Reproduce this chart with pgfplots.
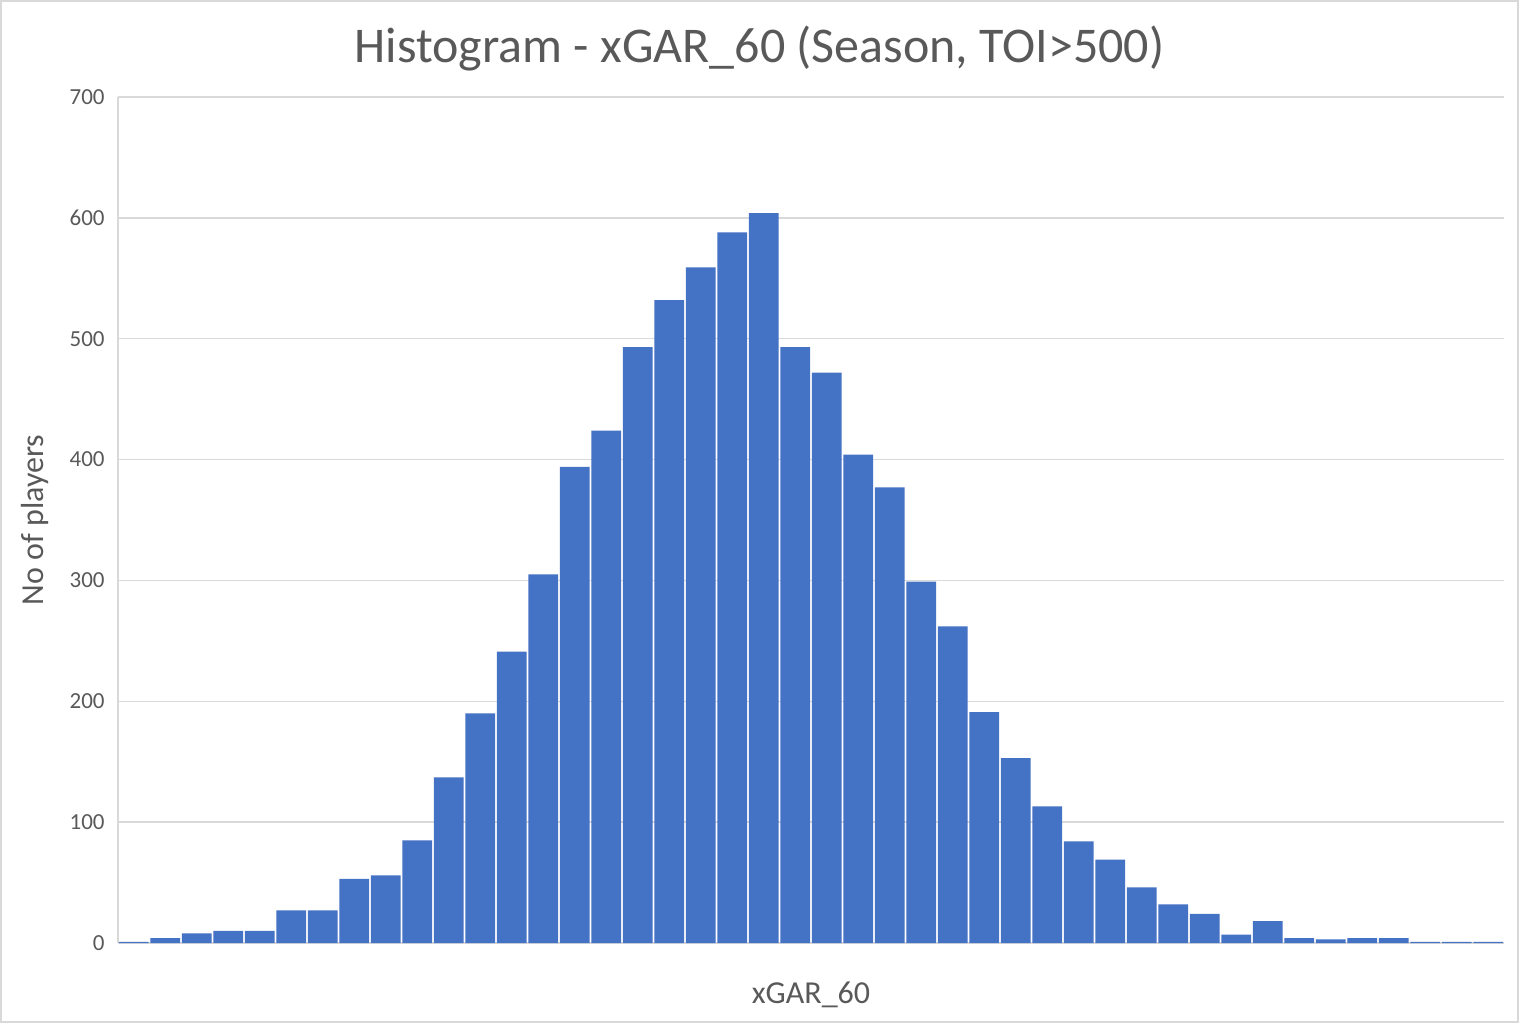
\documentclass[border=0pt]{standalone}
\usepackage{fontspec}
\setmainfont{Carlito}
\usepackage{pgfplots}
\pgfplotsset{compat=1.18}
\definecolor{txt}{HTML}{595959}
\definecolor{gridc}{HTML}{D9D9D9}
\definecolor{barc}{HTML}{4472C4}
\begin{document}
\begin{tikzpicture}
\useasboundingbox (0,0) rectangle (759.5pt,511.5pt);
\draw[gridc, line width=0.9pt] (0.45pt,0.45pt) rectangle (759.05pt,511.05pt);
\begin{axis}[
  at={(59pt,40pt)}, anchor=south west,
  scale only axis, width=693pt, height=423pt,
  xmin=0, xmax=44, ymin=0, ymax=700,
  axis x line=bottom, axis y line=left,
  axis line style={-, draw=gridc, line width=0.75pt},
  xtick=\empty,
  ytick={0,100,...,700},
  major tick length=0pt,
  ymajorgrids, grid style={draw=gridc, line width=0.75pt},
  /pgf/number format/assume math mode=true,
  yticklabel style={font=\fontsize{11.5}{13}\selectfont, text=txt, inner sep=0pt, xshift=-6.5pt},
  title={Histogram - xGAR\_60 (Season, TOI>500)},
  title style={at={(axis description cs:0.4628,1.0437)}, anchor=center, font=\fontsize{25}{30}\selectfont, text=txt},
  xlabel={xGAR\_60},
  xlabel style={at={(axis description cs:0.5,-0.0615)}, anchor=center, font=\fontsize{16}{19}\selectfont, text=txt},
  ylabel={No of players},
  ylabel style={at={(axis description cs:-0.0599,0.5)}, anchor=center, rotate=0, font=\fontsize{16}{19}\selectfont, text=txt},
  ybar, bar width=0.94, bar shift=0pt,
  clip=false,
]
\addplot[fill=barc, draw=none] coordinates {
(0.5,1) (1.5,4) (2.5,8) (3.5,10) (4.5,10) (5.5,27) (6.5,27) (7.5,53) (8.5,56) (9.5,85)
(10.5,137) (11.5,190) (12.5,241) (13.5,305) (14.5,394) (15.5,424) (16.5,493) (17.5,532) (18.5,559) (19.5,588)
(20.5,604) (21.5,493) (22.5,472) (23.5,404) (24.5,377) (25.5,299) (26.5,262) (27.5,191) (28.5,153) (29.5,113)
(30.5,84) (31.5,69) (32.5,46) (33.5,32) (34.5,24) (35.5,7) (36.5,18) (37.5,4) (38.5,3) (39.5,4)
(40.5,4) (41.5,1) (42.5,1) (43.5,1)
};
\end{axis}
\end{tikzpicture}
\end{document}
